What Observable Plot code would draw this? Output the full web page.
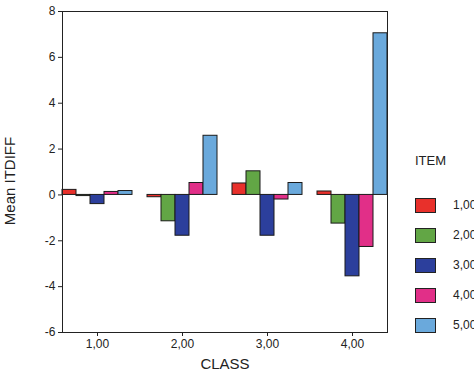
<!DOCTYPE html>
<html>
<head>
<meta charset="utf-8">
<script src="https://cdn.jsdelivr.net/npm/d3@7"></script>
<script src="https://cdn.jsdelivr.net/npm/@observablehq/plot@0.6"></script>
<style>
  html, body { margin: 0; padding: 0; background: #fff; }
  #wrap { position: relative; width: 474px; height: 376px; overflow: hidden; font-family: Arial, "Liberation Sans", sans-serif; }
  #legend { position: absolute; left: 415px; top: 153px; color: #222; }
  #legend .title { font-size: 13px; height: 37px; }
  #legend .row { display: flex; align-items: center; height: 30px; }
  #legend .sw { width: 19px; height: 13px; border: 1px solid #222; box-sizing: content-box; margin-right: 17px; }
  #legend .lab { font-size: 12px; }
  g[aria-label="y-axis label"] text, g[aria-label="fx-axis label"] text { font-size: 15px; }
</style>
</head>
<body>
<div id="wrap"></div>
<script>
const classes = [1, 2, 3, 4];
const items = [1, 2, 3, 4, 5];
const itemLabels = ["1,00", "2,00", "3,00", "4,00", "5,00"];
const itemColors = ["#e8302b", "#62a645", "#2c3f9c", "#e12f88", "#6aa9dc"];
// mean ITDIFF by class (1..4) for each item
const item1 = [0.22, -0.1, 0.5, 0.15];
const item2 = [-0.05, -1.15, 1.03, -1.25];
const item3 = [-0.4, -1.78, -1.78, -3.55];
const item4 = [0.13, 0.52, -0.2, -2.27];
const item5 = [0.17, 2.58, 0.52, 7.05];
const yTicks = [-6, -4, -2, 0, 2, 4, 6, 8];

const series = [item1, item2, item3, item4, item5];
const data = classes.flatMap((c, i) => items.map((it, j) => ({cls: c, item: it, value: series[j][i]})));
const fmt = d => d.toFixed(2).replace(".", ",");

const chart = Plot.plot({
  width: 474,
  height: 376,
  marginLeft: 43,
  marginRight: 68,
  marginTop: 11,
  marginBottom: 44,
  style: {fontFamily: "Arial, 'Liberation Sans', sans-serif", fontSize: "12px", background: "transparent", color: "#222"},
  fx: {domain: classes, paddingInner: 0.18, paddingOuter: 0.22, tickFormat: fmt},
  x: {domain: items, padding: 0, axis: null},
  y: {domain: [-6, 8]},
  color: {domain: items, range: itemColors},
  marks: [
    Plot.barY(data, {fx: "cls", x: "item", y: "value", fill: "item", stroke: "#1a1a1a", strokeWidth: 1}),
    Plot.axisY({ticks: yTicks, tickFormat: d => String(d), tickSize: 4, tickPadding: 3, label: "Mean ITDIFF", labelAnchor: "center", labelArrow: "none", labelOffset: 58}),
    Plot.axisFx({anchor: "bottom", tickFormat: fmt, tickSize: 4, tickPadding: 3, label: "CLASS", labelAnchor: "center", labelArrow: "none", labelOffset: 36}),
    Plot.frame({facet: "super", stroke: "#222"})
  ]
});
const wrap = document.getElementById("wrap");
wrap.appendChild(chart);

// nudge the y-axis title slightly lower, as in the reference
const yl = d3.select(chart).select('g[aria-label="y-axis label"]');
if (!yl.empty()) {
  const t = yl.attr("transform") || "";
  yl.attr("transform", (t + " translate(0,9)").trim());
}

const legend = document.createElement("div");
legend.id = "legend";
legend.innerHTML = `<div class="title">ITEM</div>` + items.map((it, i) =>
  `<div class="row"><div class="sw" style="background:${itemColors[i]}"></div><span class="lab">${itemLabels[i]}</span></div>`).join("");
wrap.appendChild(legend);
</script>
</body>
</html>
